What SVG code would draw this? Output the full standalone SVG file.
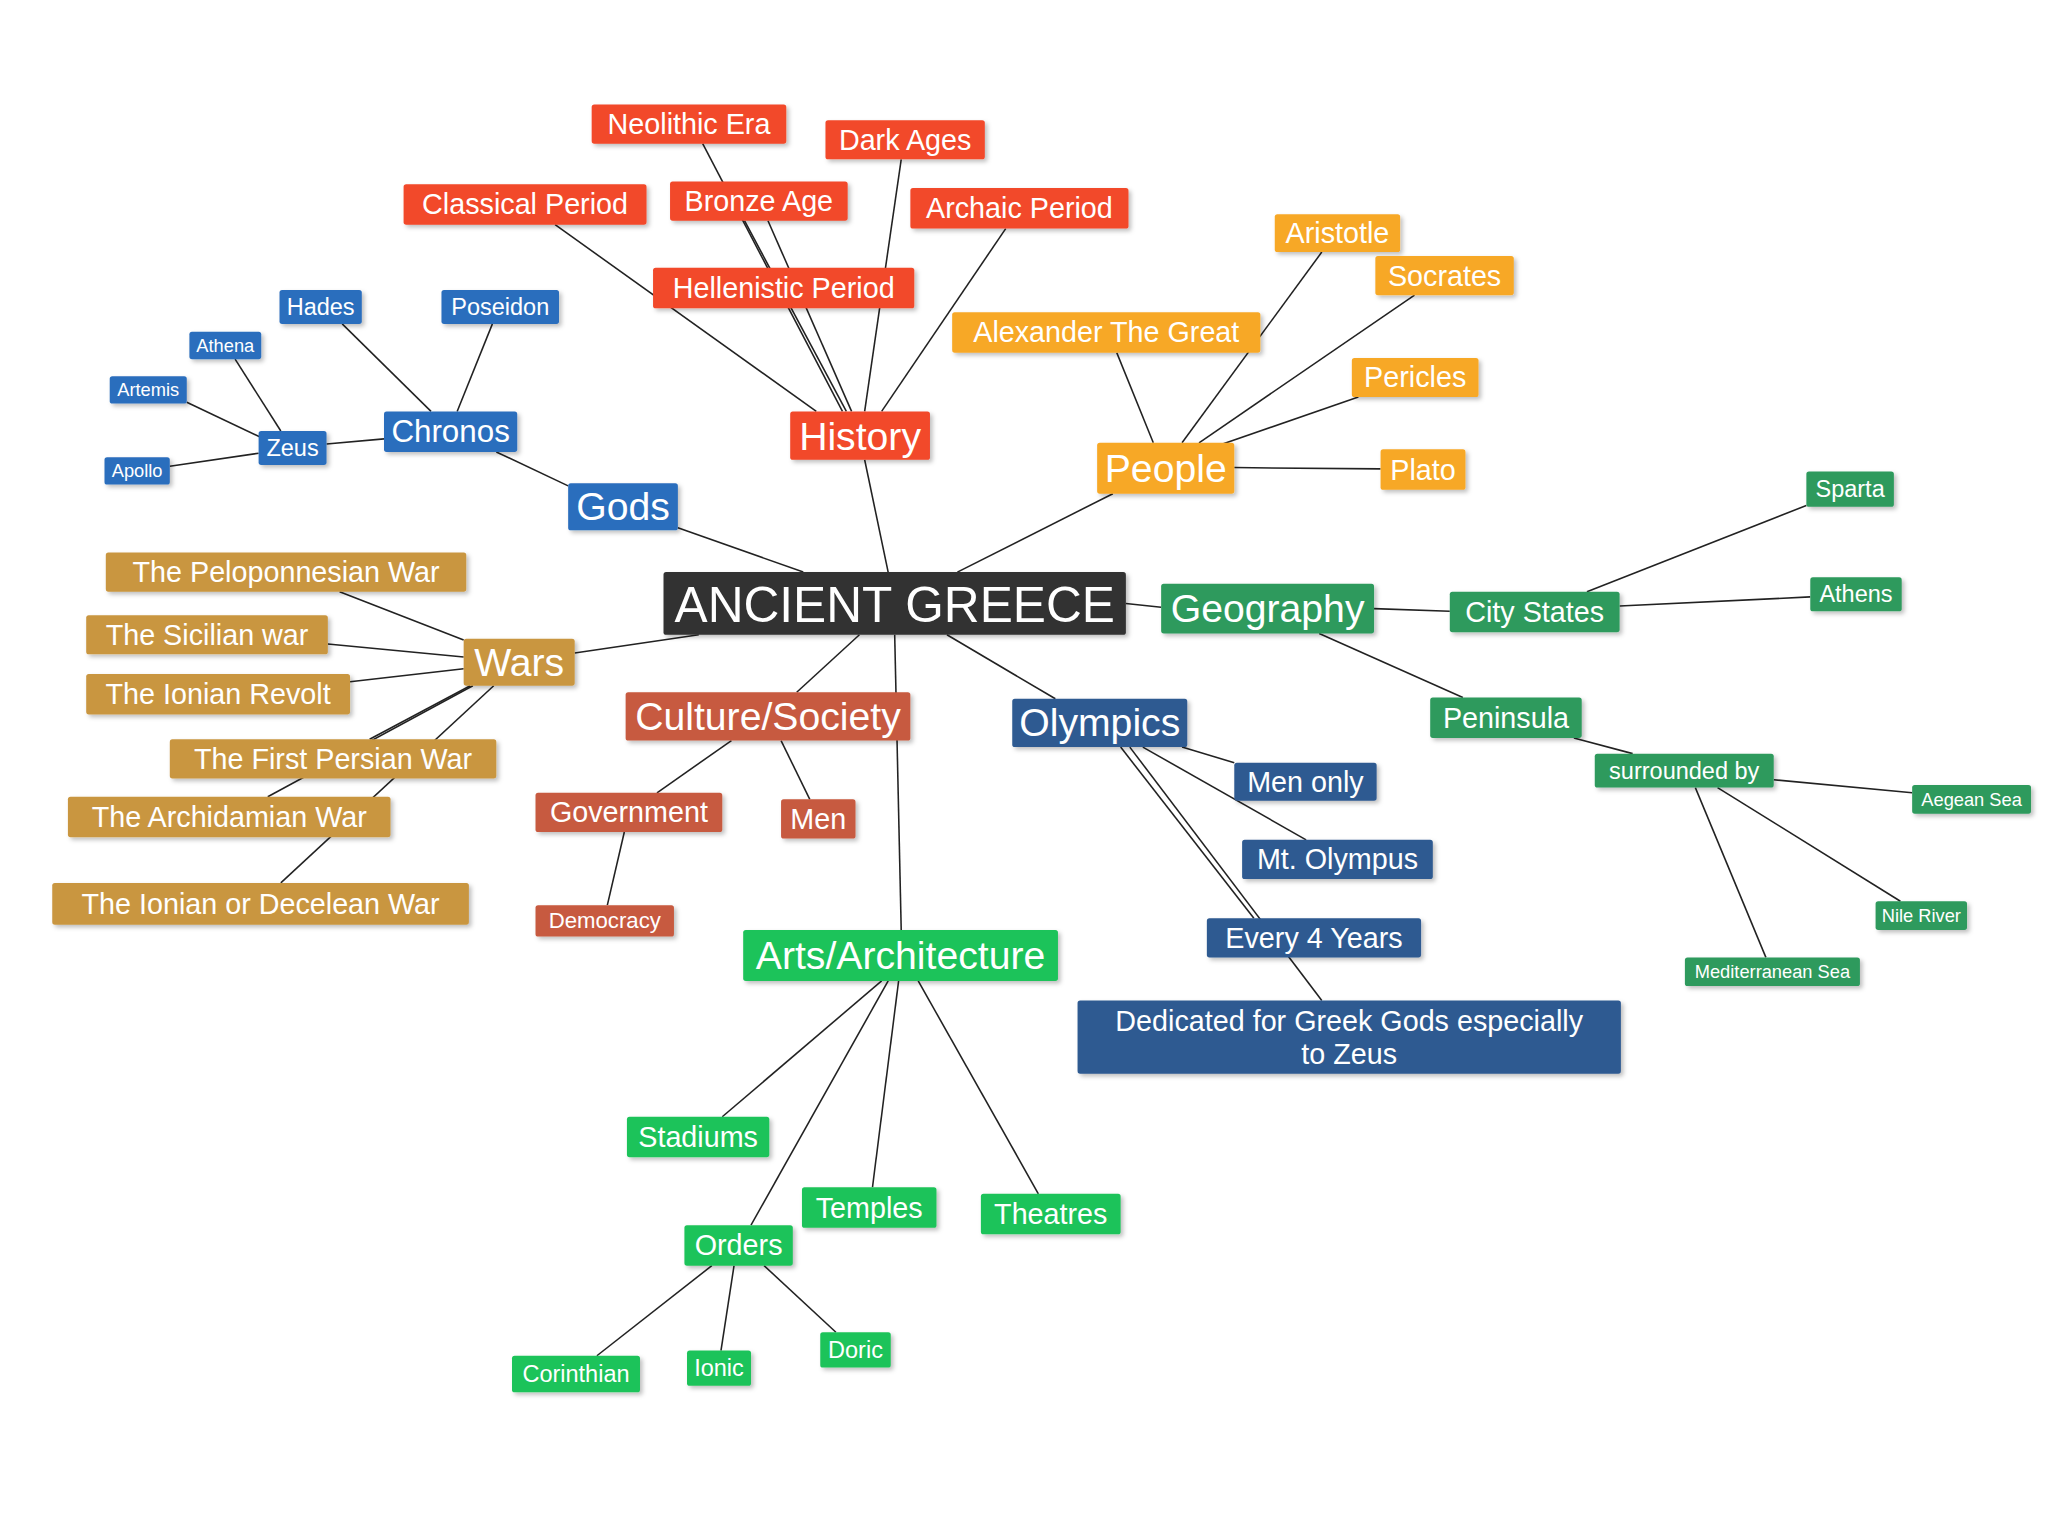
<svg xmlns="http://www.w3.org/2000/svg" width="2048" height="1536" viewBox="0 0 2048 1536">
<defs><filter id="sh" x="-10%" y="-10%" width="130%" height="140%"><feDropShadow dx="2" dy="2" stdDeviation="1.5" flood-color="#000" flood-opacity="0.25"/></filter></defs>
<style>
rect{filter:url(#sh);rx:2px}
text{font-family:"Liberation Sans",Arial,sans-serif;fill:#fff;text-anchor:middle;dominant-baseline:central}
.ln line{stroke:#222;stroke-width:1.2}
.c{fill:#333}.h{fill:#f2482a}.p{fill:#f7a826}.g{fill:#2b6ebd}.w{fill:#c99640}.cu{fill:#c75a3f}.o{fill:#2f5a91}.ge{fill:#2e9a5d}.a{fill:#1fc35a}
</style>
<rect width="2048" height="1536" fill="#fff" style="filter:none"/>
<g transform="scale(1.30612)">
<g class="ln" id="connectors">
<line x1="680" y1="438" x2="662" y2="352"/><line x1="733" y1="438" x2="852" y2="378"/><line x1="615" y1="438" x2="519" y2="404"/><line x1="535" y1="486" x2="440" y2="500"/><line x1="862" y1="462" x2="889" y2="465"/><line x1="658" y1="486" x2="610" y2="530"/><line x1="725" y1="486" x2="808" y2="535"/><line x1="685" y1="486" x2="690" y2="712"/>
<line x1="538" y1="110" x2="645" y2="315"/><line x1="588" y1="169" x2="652" y2="315"/><line x1="570" y1="169" x2="648" y2="315"/><line x1="690" y1="122" x2="662" y2="315"/><line x1="425" y1="172" x2="625" y2="315"/><line x1="770" y1="175" x2="675" y2="315"/>
<line x1="1012" y1="193" x2="905" y2="339"/><line x1="1083" y1="226" x2="918" y2="339"/><line x1="855" y1="270" x2="883" y2="339"/><line x1="1040" y1="304" x2="930" y2="342"/><line x1="945" y1="358" x2="1057" y2="359"/>
<line x1="380" y1="346" x2="435" y2="372"/><line x1="262" y1="248" x2="330" y2="315"/><line x1="377" y1="248" x2="350" y2="315"/><line x1="250" y1="340" x2="294" y2="336"/><line x1="180" y1="275" x2="215" y2="330"/><line x1="143" y1="308" x2="200" y2="335"/><line x1="130" y1="357" x2="198" y2="347"/>
<line x1="260" y1="453" x2="355" y2="490"/><line x1="251" y1="493" x2="355" y2="503"/><line x1="268" y1="522" x2="355" y2="512"/><line x1="283" y1="566" x2="360" y2="525"/><line x1="205" y1="610" x2="362" y2="525"/><line x1="215" y1="676" x2="378" y2="525"/>
<line x1="560" y1="567" x2="503" y2="607"/><line x1="598" y1="567" x2="620" y2="612"/><line x1="478" y1="637" x2="465" y2="693"/>
<line x1="905" y1="572" x2="945" y2="584"/><line x1="875" y1="572" x2="1000" y2="643"/><line x1="858" y1="572" x2="960" y2="703"/><line x1="865" y1="572" x2="1012" y2="766"/>
<line x1="1052" y1="466" x2="1110" y2="468"/><line x1="1215" y1="453" x2="1383" y2="387"/><line x1="1240" y1="464" x2="1386" y2="457"/><line x1="1010" y1="485" x2="1120" y2="534"/><line x1="1205" y1="565" x2="1250" y2="577"/><line x1="1358" y1="597" x2="1464" y2="607"/><line x1="1315" y1="603" x2="1455" y2="690"/><line x1="1298" y1="603" x2="1352" y2="733"/>
<line x1="675" y1="751" x2="553" y2="855"/><line x1="680" y1="751" x2="575" y2="938"/><line x1="688" y1="751" x2="668" y2="909"/><line x1="703" y1="751" x2="795" y2="914"/><line x1="545" y1="969" x2="457" y2="1038"/><line x1="562" y1="969" x2="552" y2="1034"/><line x1="585" y1="969" x2="640" y2="1020"/>
</g>
<g id="center"><rect class="c" x="508" y="438" width="354" height="48"/><text x="685" y="463" font-size="38">ANCIENT GREECE</text></g>
<g id="history"><rect class="h" x="605" y="315" width="107" height="37"/><text x="658.5" y="334" font-size="30">History</text></g>
<g id="neolithic"><rect class="h" x="453" y="80" width="149" height="30"/><text x="527.5" y="95" font-size="22">Neolithic Era</text></g>
<g id="darkages"><rect class="h" x="632" y="92" width="122" height="30"/><text x="693" y="107" font-size="22">Dark Ages</text></g>
<g id="classical"><rect class="h" x="309" y="141" width="186" height="31"/><text x="402" y="156.5" font-size="22">Classical Period</text></g>
<g id="bronze"><rect class="h" x="513" y="139" width="136" height="30"/><text x="581" y="154" font-size="22">Bronze Age</text></g>
<g id="archaic"><rect class="h" x="697" y="144" width="167" height="31"/><text x="780.5" y="159.5" font-size="22">Archaic Period</text></g>
<g id="hellenistic"><rect class="h" x="500" y="205" width="200" height="31"/><text x="600" y="220.5" font-size="22">Hellenistic Period</text></g>
<g id="people"><rect class="p" x="840" y="339" width="105" height="39"/><text x="892.5" y="358.5" font-size="30">People</text></g>
<g id="aristotle"><rect class="p" x="976" y="164" width="96" height="29"/><text x="1024" y="178.5" font-size="22">Aristotle</text></g>
<g id="socrates"><rect class="p" x="1053" y="196" width="106" height="30"/><text x="1106" y="211" font-size="22">Socrates</text></g>
<g id="alexander"><rect class="p" x="729" y="239" width="236" height="31"/><text x="847" y="254.5" font-size="22">Alexander The Great</text></g>
<g id="pericles"><rect class="p" x="1035" y="274" width="97" height="30"/><text x="1083.5" y="289" font-size="22">Pericles</text></g>
<g id="plato"><rect class="p" x="1057" y="344" width="65" height="31"/><text x="1089.5" y="359.5" font-size="22">Plato</text></g>
<g id="gods"><rect class="g" x="435" y="370" width="84" height="36"/><text x="477" y="388" font-size="30">Gods</text></g>
<g id="chronos"><rect class="g" x="294" y="315" width="102" height="31"/><text x="345" y="330.5" font-size="24">Chronos</text></g>
<g id="hades"><rect class="g" x="214" y="222" width="63" height="26"/><text x="245.5" y="235" font-size="18">Hades</text></g>
<g id="poseidon"><rect class="g" x="338" y="222" width="90" height="26"/><text x="383" y="235" font-size="18">Poseidon</text></g>
<g id="athena"><rect class="g" x="145" y="254" width="55" height="21"/><text x="172.5" y="264.5" font-size="14">Athena</text></g>
<g id="artemis"><rect class="g" x="84" y="288" width="59" height="21"/><text x="113.5" y="298.5" font-size="14">Artemis</text></g>
<g id="zeus"><rect class="g" x="198" y="330" width="52" height="26"/><text x="224" y="343" font-size="18">Zeus</text></g>
<g id="apollo"><rect class="g" x="80" y="350" width="50" height="21"/><text x="105" y="360.5" font-size="14">Apollo</text></g>
<g id="wars"><rect class="w" x="355" y="489" width="85" height="36"/><text x="397.5" y="507" font-size="30">Wars</text></g>
<g id="pelop"><rect class="w" x="81" y="423" width="276" height="30"/><text x="219" y="438" font-size="22">The Peloponnesian War</text></g>
<g id="sicilian"><rect class="w" x="66" y="471" width="185" height="30"/><text x="158.5" y="486" font-size="22">The Sicilian war</text></g>
<g id="ionianrevolt"><rect class="w" x="66" y="516" width="202" height="31"/><text x="167" y="531.5" font-size="22">The Ionian Revolt</text></g>
<g id="firstpersian"><rect class="w" x="130" y="566" width="250" height="30"/><text x="255" y="581" font-size="22">The First Persian War</text></g>
<g id="archidamian"><rect class="w" x="52" y="610" width="247" height="31"/><text x="175.5" y="625.5" font-size="22">The Archidamian War</text></g>
<g id="decelean"><rect class="w" x="40" y="676" width="319" height="32"/><text x="199.5" y="692" font-size="22">The Ionian or Decelean War</text></g>
<g id="culture"><rect class="cu" x="479" y="530" width="218" height="37"/><text x="588" y="548.5" font-size="30">Culture/Society</text></g>
<g id="government"><rect class="cu" x="410" y="607" width="143" height="30"/><text x="481.5" y="622" font-size="22">Government</text></g>
<g id="men"><rect class="cu" x="598" y="612" width="57" height="30"/><text x="626.5" y="627" font-size="22">Men</text></g>
<g id="democracy"><rect class="cu" x="410" y="693" width="106" height="24"/><text x="463" y="705" font-size="17">Democracy</text></g>
<g id="olympics"><rect class="o" x="775" y="535" width="134" height="37"/><text x="842" y="553.5" font-size="30">Olympics</text></g>
<g id="menonly"><rect class="o" x="945" y="584" width="109" height="29"/><text x="999.5" y="598.5" font-size="22">Men only</text></g>
<g id="mtolympus"><rect class="o" x="951" y="643" width="146" height="30"/><text x="1024" y="658" font-size="22">Mt. Olympus</text></g>
<g id="every4"><rect class="o" x="924" y="703" width="164" height="30"/><text x="1006" y="718" font-size="22">Every 4 Years</text></g>
<g id="dedicated"><rect class="o" x="825" y="766" width="416" height="56"/><text x="1033" y="782" font-size="22">Dedicated for Greek Gods especially</text><text x="1033" y="807" font-size="22">to Zeus</text></g>
<g id="geography"><rect class="ge" x="889" y="447" width="163" height="38"/><text x="970.5" y="466" font-size="30">Geography</text></g>
<g id="citystates"><rect class="ge" x="1110" y="453" width="130" height="31"/><text x="1175" y="468.5" font-size="22">City States</text></g>
<g id="sparta"><rect class="ge" x="1383" y="361" width="67" height="27"/><text x="1416.5" y="374.5" font-size="18">Sparta</text></g>
<g id="athens"><rect class="ge" x="1386" y="442" width="70" height="26"/><text x="1421" y="455" font-size="18">Athens</text></g>
<g id="peninsula"><rect class="ge" x="1095" y="534" width="116" height="31"/><text x="1153" y="549.5" font-size="22">Peninsula</text></g>
<g id="surrounded"><rect class="ge" x="1221" y="577" width="137" height="26"/><text x="1289.5" y="590" font-size="18">surrounded by</text></g>
<g id="aegean"><rect class="ge" x="1464" y="601" width="91" height="22"/><text x="1509.5" y="612" font-size="14">Aegean Sea</text></g>
<g id="nile"><rect class="ge" x="1436" y="690" width="70" height="22"/><text x="1471" y="701" font-size="14">Nile River</text></g>
<g id="med"><rect class="ge" x="1290" y="733" width="134" height="22"/><text x="1357" y="744" font-size="14">Mediterranean Sea</text></g>
<g id="arts"><rect class="a" x="569" y="712" width="241" height="39"/><text x="689.5" y="731.5" font-size="30">Arts/Architecture</text></g>
<g id="stadiums"><rect class="a" x="480" y="855" width="109" height="31"/><text x="534.5" y="870.5" font-size="22">Stadiums</text></g>
<g id="temples"><rect class="a" x="614" y="909" width="103" height="31"/><text x="665.5" y="924.5" font-size="22">Temples</text></g>
<g id="theatres"><rect class="a" x="751" y="914" width="107" height="31"/><text x="804.5" y="929.5" font-size="22">Theatres</text></g>
<g id="orders"><rect class="a" x="524" y="938" width="83" height="31"/><text x="565.5" y="953.5" font-size="22">Orders</text></g>
<g id="corinthian"><rect class="a" x="392" y="1038" width="98" height="28"/><text x="441" y="1052" font-size="18">Corinthian</text></g>
<g id="ionic"><rect class="a" x="526" y="1034" width="49" height="27"/><text x="550.5" y="1047.5" font-size="18">Ionic</text></g>
<g id="doric"><rect class="a" x="628" y="1020" width="54" height="27"/><text x="655" y="1033.5" font-size="18">Doric</text></g>
</g>
</svg>
